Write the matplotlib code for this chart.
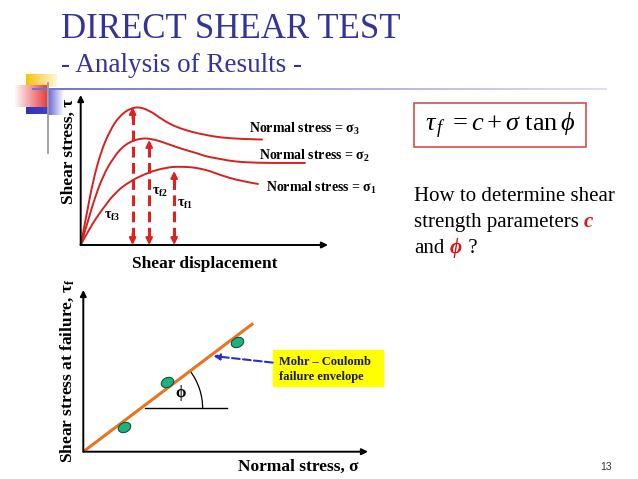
import numpy as np
import matplotlib
matplotlib.use("Agg")
import matplotlib.pyplot as plt
from matplotlib.patches import Rectangle, Arc, PathPatch
from matplotlib.path import Path
from matplotlib.markers import MarkerStyle
from matplotlib.transforms import Affine2D

plt.rcParams['font.family'] = ['Liberation Serif', 'DejaVu Serif']
plt.rcParams['mathtext.fontset'] = 'custom'
plt.rcParams['mathtext.rm'] = 'Liberation Serif'
plt.rcParams['mathtext.it'] = 'Liberation Serif:italic'
plt.rcParams['mathtext.bf'] = 'Liberation Serif:bold'

# --- upper chart: shear stress vs shear displacement
disp_s3 = [0, 0.21, 0.49, 0.82, 1.16, 1.56, 2.17, 2.77, 3.32, 3.85, 4.50, 5.07, 5.63, 6.44, 7.33]
tau_s3 = [0, 1.78, 4.22, 6.22, 7.55, 8.62, 9.27, 9.0, 8.33, 7.87, 7.53, 7.33, 7.17, 7.07, 7.03]
disp_s2 = [0, 0.25, 0.54, 0.90, 1.31, 1.79, 2.44, 3.01, 3.53, 4.10, 4.68, 5.08, 5.53, 6.17, 6.86, 7.53, 8.46, 9.07]
tau_s2 = [0, 1.33, 3.0, 4.6, 5.8, 6.73, 7.15, 7.03, 6.73, 6.4, 6.13, 5.9, 5.77, 5.57, 5.5, 5.47, 5.47, 5.47]
disp_s1 = [0, 0.35, 0.90, 1.43, 1.97, 2.51, 3.04, 3.58, 3.85, 4.42, 4.82, 5.23, 5.63, 6.44, 7.17]
tau_s1 = [0, 1.11, 2.45, 3.55, 4.22, 4.67, 5.0, 5.18, 5.22, 5.2, 5.1, 4.93, 4.67, 4.27, 4.07]
curve_names = ['3', '2', '1']

# peak (failure) values marked by the dashed arrows: sigma3, sigma2, sigma1
peak_disp = [2.10, 2.77, 3.78]
peak_tau = [9.2, 7.0, 4.93]
peak_labels = ['f3', 'f2', 'f1']

# --- lower chart: Mohr-Coulomb envelope
sigma_pts = [1.43, 2.95, 5.41]
tauf_pts = [0.88, 2.46, 3.86]
env_sigma = [0, 5.97]
env_tau = [0, 4.51]
phi_deg = 37

RED = '#d42222'
BLUE_T = '#333399'

fig = plt.figure(figsize=(6.38, 4.79), dpi=100)

# decoration layer in pixel coordinates
deco = fig.add_axes([0, 0, 1, 1], zorder=0)
deco.axis('off')

def grad(x0, x1, y0, y1, c0, c1, n=64):
    t = np.linspace(0, 1, n)[None, :, None]
    img = np.array(c0)[None, None, :] * (1 - t) + np.array(c1)[None, None, :] * t
    deco.imshow(img, extent=(x0, x1, y1, y0), aspect='auto', interpolation='bilinear')

grad(26, 57, 74, 87, (0.97, 0.76, 0.05), (1, 0.97, 0.85))
grad(15, 47, 85, 107, (1, 0.97, 0.97), (0.91, 0.25, 0.25))
grad(26, 48, 107, 114, (0.2, 0.2, 0.72), (0.25, 0.25, 0.78))
grad(48, 64, 89, 115, (0.4, 0.4, 0.85), (1, 1, 1))
grad(32, 607, 88.5, 90.3, (0.45, 0.45, 0.78), (0.88, 0.88, 0.92))
deco.plot([48, 48], [83, 153], color='#9a9a9a', lw=1.3)
deco.set_xlim(0, 638)
deco.set_ylim(479, 0)

deco.text(61, 38, 'DIRECT SHEAR TEST', fontsize=25, color=BLUE_T, va='baseline')
deco.text(61, 72, '- Analysis of Results -', fontsize=19.5, color=BLUE_T, va='baseline')

# formula box
deco.add_patch(Rectangle((414, 103), 172, 44, fill=False, ec='#d05050', lw=1.2))
deco.text(500, 126, r'$\tau_{\,f}\ = c + \sigma\ \mathrm{tan}\,\phi$', fontsize=19,
          ha='center', va='center')

deco.text(414, 201, 'How to determine shear', fontsize=15, va='baseline')
deco.text(414, 227, 'strength parameters', fontsize=15, va='baseline')
deco.text(584, 227, 'c', fontsize=15, va='baseline', color='#e01010',
          fontweight='bold', fontstyle='italic')
deco.text(414, 253, 'and', fontsize=15, va='baseline')
deco.text(450, 253, 'ϕ', fontsize=15, va='baseline', color='#e01010',
          fontweight='bold', fontstyle='italic')
deco.text(463, 253, ' ?', fontsize=15, va='baseline')

deco.text(606, 467, '13', fontsize=7.5, family='Liberation Sans', color='#333333',
          ha='center', va='center')

# axis labels
deco.text(205, 268, 'Shear displacement', fontsize=12.5, fontweight='bold',
          ha='center', va='baseline')
deco.text(69, 151, 'Shear stress, τ', fontsize=12.5, fontweight='bold',
          rotation=90, ha='center', va='center')
deco.text(298, 471, 'Normal stress, σ', fontsize=12.5, fontweight='bold',
          ha='center', va='baseline')
deco.text(67, 371, r'Shear stress at failure, $\mathbf{τ}_{\mathbf{f}}$', fontsize=12.5,
          fontweight='bold', rotation=90, ha='center', va='center')


def px_axes(x0, x1, ytop, ybot):
    return fig.add_axes([x0 / 638, (479 - ybot) / 479, (x1 - x0) / 638, (ybot - ytop) / 479],
                        zorder=2)


def axis_arrows(ax):
    for end in [(1, 0), (0, 1)]:
        ax.annotate('', xy=end, xytext=(0, 0), xycoords='axes fraction',
                    arrowprops=dict(arrowstyle='-|>', color='black', lw=1.4,
                                    mutation_scale=9, shrinkA=0, shrinkB=0))
    for s in ax.spines.values():
        s.set_visible(False)
    ax.set_xticks([])
    ax.set_yticks([])
    ax.patch.set_alpha(0)


def smooth_curve(ax, xs, ys, **kw):
    # quadratic Bezier path that uses the read points as control points
    pts = list(zip(xs, ys))
    verts = [pts[0]]
    codes = [Path.MOVETO]
    for i in range(1, len(pts) - 1):
        mid = ((pts[i][0] + pts[i + 1][0]) / 2, (pts[i][1] + pts[i + 1][1]) / 2)
        if i == len(pts) - 2:
            mid = pts[-1]
        verts += [pts[i], mid]
        codes += [Path.CURVE3, Path.CURVE3]
    ax.add_patch(PathPatch(Path(verts, codes), fill=False, **kw))


# --- upper chart
ax1 = px_axes(80.7, 328, 95, 245)
ax1.set_xlim(0, 10)
ax1.set_ylim(0, 10)
axis_arrows(ax1)

curves = [(disp_s3, tau_s3), (disp_s2, tau_s2), (disp_s1, tau_s1)]
for (d, t) in curves:
    smooth_curve(ax1, d, t, ec=RED, lw=1.4, capstyle='round', clip_on=False)

label_pos = [(6.81, 7.45), (7.21, 5.67), (7.49, 3.56)]
for name, (lx, ly) in zip(curve_names, label_pos):
    ax1.text(lx, ly, 'Normal stress = ' + r'$\mathbf{σ}_{\mathbf{%s}}$' % name,
             fontsize=10, fontweight='bold', va='baseline')

tau_lab_pos = [(1.27, 1.87), (3.21, 3.53), (4.22, 2.67)]
for x, top, lab, (tx, ty) in zip(peak_disp, peak_tau, peak_labels, tau_lab_pos):
    ax1.plot([x, x], [0.5, top - 0.5], color='#dd2222', lw=2.2, ls=(0, (3.5, 1.8)))
    ax1.annotate('', xy=(x, top), xytext=(x, top - 0.8),
                 arrowprops=dict(arrowstyle='-|>', color='#dd2222', lw=1.5,
                                 mutation_scale=10, shrinkA=0, shrinkB=0))
    ax1.annotate('', xy=(x, 0), xytext=(x, 0.8),
                 arrowprops=dict(arrowstyle='-|>', color='#dd2222', lw=1.5,
                                 mutation_scale=10, shrinkA=0, shrinkB=0))
    ax1.text(tx, ty, r'$\mathbf{τ}_{\mathbf{%s}}$' % lab, fontsize=10,
             ha='center', va='center')

# --- lower chart
ax2 = px_axes(83.3, 368, 290, 451.7)
ax2.set_xlim(0, 10)
ax2.set_ylim(0, 161.7 / 28.47)
axis_arrows(ax2)

ax2.plot(env_sigma, env_tau, color='#e8741e', lw=2.2, solid_capstyle='butt')
mk = MarkerStyle('o', transform=Affine2D().scale(1.35, 1.0).rotate_deg(25))
ax2.scatter(sigma_pts, tauf_pts, s=48, marker=mk, color='#1fb27e', edgecolor='#115544',
            lw=0.8, zorder=3)

ref_tau = 1.52
ref_x0 = ref_tau * env_sigma[1] / env_tau[1]
ax2.plot([ref_x0 + 0.15, ref_x0 + 3.03], [ref_tau, ref_tau], color='black', lw=1.0)
ax2.add_patch(Arc((ref_x0, ref_tau), 4.36, 4.36, theta1=0, theta2=phi_deg,
                  color='black', lw=0.9))
ax2.text(3.43, 2.06, 'ϕ', fontsize=12, fontweight='bold', ha='center', va='center')

ax2.add_patch(Rectangle((6.65, 2.31), 3.87, 1.26, color='#ffff00', clip_on=False, zorder=1))
ax2.text(6.88, 3.16, 'Mohr – Coulomb', fontsize=9, fontweight='bold', color='#1a1a3a',
         va='center')
ax2.text(6.88, 2.63, 'failure envelope', fontsize=9, fontweight='bold', color='#1a1a3a',
         va='center')
ax2.annotate('', xy=(4.57, 3.36), xytext=(6.65, 3.13),
             arrowprops=dict(arrowstyle='-|>', color='#2d2dcc', lw=1.5, ls='--',
                             mutation_scale=9, shrinkA=0, shrinkB=0))

fig.savefig('out.png', dpi=100)
